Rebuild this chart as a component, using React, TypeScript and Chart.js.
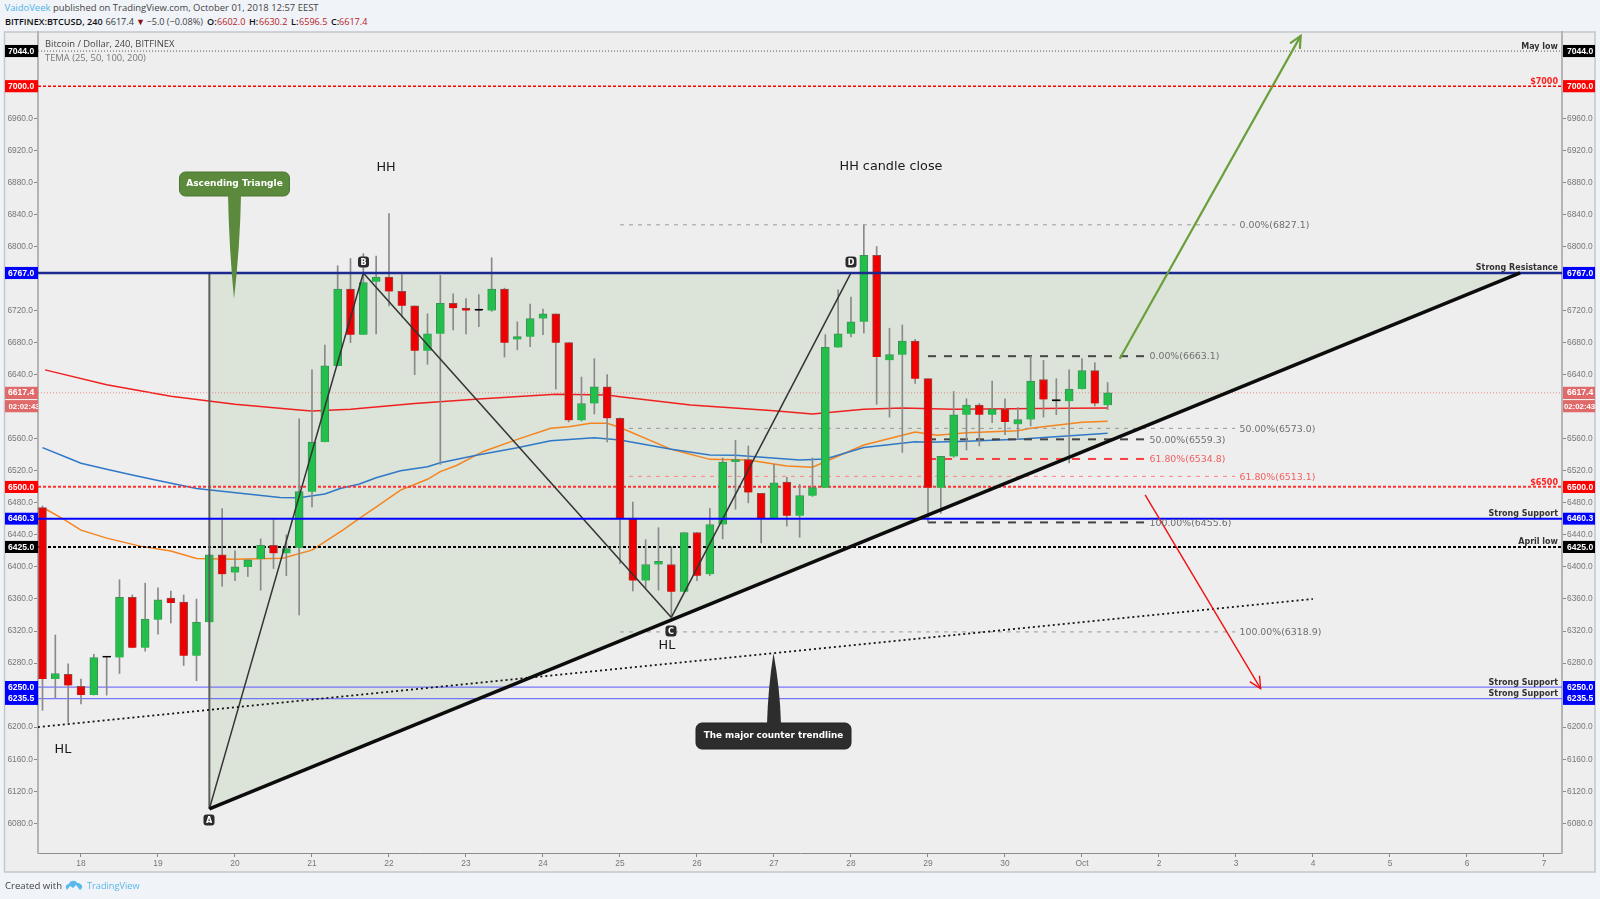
import { useEffect, useRef } from 'react'
import Chart from 'chart.js/auto'

// 4h candles, first one sits at day 17.5, six per day
const opens = [6474, 6260, 6266, 6251, 6240, 6287, 6287, 6362, 6299, 6334, 6361, 6356, 6289, 6331, 6415, 6393, 6400, 6410, 6427, 6417, 6424, 6494, 6556, 6651, 6747, 6690, 6756, 6762, 6744, 6726, 6670, 6691, 6729, 6723, 6720, 6720, 6747, 6684, 6687.5, 6710, 6716, 6680, 6583, 6604, 6625, 6585.5, 6461, 6383, 6403, 6403, 6369, 6443, 6391, 6453, 6531, 6534, 6492, 6461, 6506, 6464, 6489, 6499, 6674, 6691, 6706, 6789, 6658, 6665, 6682, 6635, 6499, 6538, 6590, 6602, 6590, 6597, 6578, 6584, 6634, 6607, 6607, 6622, 6645, 6602]
const highs = [6476, 6315, 6279, 6260, 6291, 6288, 6384, 6365, 6380, 6374, 6370, 6365, 6360, 6415, 6473, 6420, 6409, 6435, 6459, 6440, 6585, 6646, 6677, 6776, 6785, 6791, 6788, 6841, 6765, 6726, 6716, 6764, 6741, 6735, 6740, 6786, 6748, 6706, 6728, 6722, 6716, 6680, 6637, 6660, 6640, 6586, 6481, 6434, 6449, 6425, 6443, 6443, 6473, 6536, 6558, 6551, 6492, 6528, 6512, 6503, 6536, 6690, 6746, 6737, 6827.1, 6800, 6698, 6702, 6684, 6635, 6538, 6619, 6610, 6604, 6632, 6610, 6599, 6663, 6658, 6635, 6646, 6660, 6655, 6630.2]
const lows = [6221, 6236, 6206, 6229, 6240, 6240, 6267, 6299, 6295, 6316, 6330, 6277, 6258, 6331, 6376, 6383, 6388, 6371, 6398, 6389, 6340, 6475, 6556, 6651, 6680, 6690, 6691, 6726, 6712, 6640, 6653, 6528, 6696, 6691, 6700, 6719, 6662, 6671, 6675, 6690, 6622, 6581, 6582, 6591, 6556, 6404, 6370, 6374, 6371, 6338, 6369, 6383, 6389, 6435, 6472, 6480, 6430, 6461, 6451, 6437, 6488, 6499, 6674, 6687, 6692, 6603, 6587, 6543, 6629, 6456, 6467, 6537, 6546, 6551, 6580, 6565, 6559, 6576, 6587, 6590, 6530, 6622, 6601, 6596.5]
const closes = [6260, 6267, 6252, 6240, 6287, 6287.5, 6362, 6299, 6335, 6359, 6355, 6289, 6331, 6415, 6391, 6400, 6409, 6427, 6417, 6423, 6494, 6556, 6651, 6747, 6690, 6755, 6762, 6744, 6726, 6670, 6691, 6729, 6723, 6720, 6720.4, 6747, 6680, 6687.5, 6710, 6716, 6680, 6583, 6604, 6625, 6585.5, 6461, 6383, 6403, 6407, 6369, 6443, 6389, 6453, 6531, 6534, 6493, 6461, 6505, 6464, 6489, 6499, 6674, 6691, 6706, 6789, 6662, 6665, 6682, 6635, 6499, 6538, 6590, 6602, 6590, 6597, 6581, 6584, 6632, 6609, 6607.4, 6622, 6645, 6604, 6617.4]

// TEMA vertices, x is the candle index
const tema200Idx = [0.2, 5, 10, 15, 20, 21, 24, 29, 34, 40, 44, 45, 50.5, 57, 60, 64, 67, 71, 80, 83]
const tema200 = [6646, 6627.5, 6613, 6603, 6596, 6594.7, 6597, 6604, 6609.7, 6615.5, 6614.7, 6612.6, 6602.2, 6595, 6591, 6596.8, 6598.4, 6597, 6598, 6598.4]
const tema100Idx = [0, 2, 3, 5, 7, 9, 12, 18.5, 20, 22, 23.2, 24.7, 26, 27.9, 30, 31, 33.9, 37, 39.6, 43, 45, 49, 52, 54, 59, 61, 64, 68, 69, 72, 76, 83]
const tema100 = [6549, 6536, 6529.4, 6522, 6514.8, 6508, 6498, 6486.7, 6486.5, 6491, 6498, 6503.5, 6511.4, 6520, 6525, 6530, 6539.7, 6548.9, 6557.6, 6561.4, 6558.5, 6546.8, 6539.7, 6539.3, 6533.5, 6534.8, 6549, 6556.4, 6555.6, 6557, 6559.3, 6566.8]
const tema50Idx = [0.3, 1.6, 3, 5, 7.6, 10, 12, 15, 18.7, 21, 23.4, 24.7, 26.1, 27.9, 30, 31, 32.3, 34.3, 37, 39.6, 41, 42.7, 44, 45, 49, 52, 55, 58, 60, 64, 68, 69.7, 72, 76, 77, 81, 83]
const tema50 = [6471.7, 6460, 6446, 6436, 6426, 6420, 6410.5, 6409.7, 6411, 6421, 6446, 6460.7, 6476, 6496, 6509.4, 6519, 6527, 6543.9, 6559.3, 6573, 6575, 6579.3, 6579.3, 6574, 6546.8, 6534.3, 6533.5, 6526, 6524.4, 6552.2, 6568.4, 6564.3, 6567.6, 6570, 6573, 6580.5, 6581.8]

const yTicks = [6080, 6120, 6160, 6200, 6280, 6320, 6360, 6400, 6440, 6480, 6520, 6560, 6640, 6680, 6720, 6800, 6840, 6880, 6920, 6960]
const dayTicks = [18, 19, 20, 21, 22, 23, 24, 25, 26, 27, 28, 29, 30, 31, 32, 33, 34, 35, 36, 37]
const dayLabels = ['18', '19', '20', '21', '22', '23', '24', '25', '26', '27', '28', '29', '30', 'Oct', '2', '3', '4', '5', '6', '7']

const tagValues = [7044, 7000, 6767, 6617.4, 6500, 6460.3, 6425, 6250, 6235.5]
const tagColors = ['#000000', '#ff0000', '#0000ff', '#e06a6a', '#ff0000', '#0000ff', '#000000', '#0000ff', '#0000ff']

// pattern points as [day, price]
const ptA = [19.667, 6098]
const ptB = [21.667, 6767]
const ptC = [25.667, 6337]
const ptD = [28, 6767]
const apex = [36.69, 6767]

const fibLevels1 = [6827.1, 6573, 6513.1, 6318.9]
const fibNames1 = ['0.00%(6827.1)', '50.00%(6573.0)', '61.80%(6513.1)', '100.00%(6318.9)']
const fibLevels2 = [6663.1, 6559.3, 6534.8, 6455.6]
const fibNames2 = ['0.00%(6663.1)', '50.00%(6559.3)', '61.80%(6534.8)', '100.00%(6455.6)']

const PX_FONT = '"Liberation Sans"'
const TV_FONT = '"DejaVu Sans"'

const dayOf = (i: number) => 17.5 + i / 6
const X_MIN = 17.4416
const X_MAX = 37.234

const hline = (v: number) => [{ x: X_MIN, y: v }, { x: X_MAX, y: v }]
const pts = (a: number[], b: number[]) => [{ x: a[0], y: a[1] }, { x: b[0], y: b[1] }]
const line = (label: string, data: any[], color: string, width: number, order: number, dash: number[] = []) => ({
  type: 'line', label, data, borderColor: color, borderWidth: width, borderDash: dash,
  pointRadius: 0, tension: 0, fill: false, order,
})
const tema = (label: string, idx: number[], vals: number[], color: string) =>
  line(label, idx.map((k, n) => ({ x: dayOf(k), y: vals[n] })), color, 1.5, 70)

const candleData = opens.map((o, i) => ({ x: dayOf(i), y: [o, closes[i]] }))
const wickData = highs.map((h, i) => ({ x: dayOf(i), y: [lows[i], h] }))
const isDoji = (i: number) => Math.abs(opens[i] - closes[i]) < 1
const bodyColors = opens.map((o, i) => (isDoji(i) ? '#000000' : closes[i] > o ? '#22c04b' : '#ee0000'))
const edgeColors = opens.map((o, i) => (isDoji(i) ? '#000000' : closes[i] > o ? '#3f8f58' : '#8f4a4a'))

function head(ctx: any, x0: number, y0: number, x1: number, y1: number, color: string, width: number) {
  const a = Math.atan2(y1 - y0, x1 - x0)
  ctx.strokeStyle = color
  ctx.lineWidth = width
  ctx.beginPath()
  ctx.moveTo(x1 - 13 * Math.cos(a - 0.45), y1 - 13 * Math.sin(a - 0.45))
  ctx.lineTo(x1, y1)
  ctx.lineTo(x1 - 13 * Math.cos(a + 0.45), y1 - 13 * Math.sin(a + 0.45))
  ctx.stroke()
}

function badge(ctx: any, x: number, y: number, letter: string) {
  ctx.fillStyle = '#2b2b2b'
  ctx.beginPath()
  ctx.roundRect(x - 5.5, y - 5.5, 11, 11, 3)
  ctx.fill()
  ctx.fillStyle = '#ffffff'
  ctx.font = `bold 8px ${TV_FONT}`
  ctx.textAlign = 'center'
  ctx.textBaseline = 'middle'
  ctx.fillText(letter, x, y + 0.5)
}

function callout(ctx: any, box: number[], tip: number[], neck: number[], fill: string, edge: string, text: string, size: number) {
  const [x, y, w, h] = box
  const up = tip[1] < y
  const base = up ? y + 1 : y + h - 1
  ctx.fillStyle = fill
  ctx.strokeStyle = edge
  ctx.lineWidth = 1
  ctx.beginPath()
  ctx.roundRect(x, y, w, h, 6)
  ctx.fill()
  ctx.stroke()
  ctx.beginPath()
  ctx.moveTo(neck[0], base)
  ctx.quadraticCurveTo(neck[0] + 1, (base + tip[1]) / 2, tip[0], tip[1])
  ctx.quadraticCurveTo(neck[1] - 1, (base + tip[1]) / 2, neck[1], base)
  ctx.closePath()
  ctx.fill()
  ctx.fillStyle = '#ffffff'
  ctx.font = `bold ${size}px ${TV_FONT}`
  ctx.textAlign = 'center'
  ctx.textBaseline = 'middle'
  ctx.fillText(text, x + w / 2, y + h / 2)
}

const paperPlugin = {
  id: 'paper',
  beforeDraw(chart: any) {
    const { ctx } = chart
    ctx.save()
    ctx.fillStyle = '#eeeeee'
    ctx.fillRect(5, 32, 1590, 840)
    ctx.strokeStyle = '#c3c6ca'
    ctx.lineWidth = 1.5
    ctx.strokeRect(4.5, 32, 1590.5, 840)
    ctx.restore()
  },
}

const notesPlugin = {
  id: 'notes',
  afterDatasetsDraw(chart: any) {
    const { ctx, scales } = chart
    const px = (d: number) => scales.x.getPixelForValue(d)
    const py = (v: number) => scales.y.getPixelForValue(v)
    ctx.save()

    // pane legend
    ctx.textAlign = 'left'
    ctx.textBaseline = 'middle'
    ctx.font = '9.4px "Open Sans"'
    ctx.fillStyle = '#444444'
    ctx.fillText('Bitcoin / Dollar, 240, BITFINEX', 45, 44.5)
    ctx.fillStyle = '#777777'
    ctx.fillText('TEMA (25, 50, 100, 200)', 45, 58.5)

    // arrow heads
    head(ctx, px(31.49), py(6660), px(33.84), py(7063), '#6a9f3c', 2.2)
    head(ctx, px(31.82), py(6490), px(33.32), py(6248), '#f01010', 1.4)

    // fib labels
    ctx.textAlign = 'left'
    ctx.font = `9.4px ${TV_FONT}`
    fibLevels1.forEach((v, i) => {
      ctx.fillStyle = i === 2 ? '#f06060' : '#6f6f6f'
      ctx.fillText(fibNames1[i], 1239.5, py(v) + 0.8)
    })
    fibLevels2.forEach((v, i) => {
      ctx.fillStyle = i === 2 ? '#f06060' : '#6f6f6f'
      ctx.fillText(fibNames2[i], 1149.5, py(v) + 0.8)
    })

    // free text
    ctx.fillStyle = '#1a1a1a'
    ctx.font = `12.8px ${TV_FONT}`
    ctx.textAlign = 'center'
    ctx.fillText('HH', 386, 168)
    ctx.fillText('HH candle close', 891, 167)
    ctx.fillText('HL', 667, 646)
    ctx.fillText('HL', 63, 750)

    // notes on the price lines
    ctx.textAlign = 'right'
    ctx.font = `bold 8px ${TV_FONT}`
    const noted = [
      ['May low', 47, '#333333'], ['$7000', 81.5, '#ff2020'], ['Strong Resistance', 268, '#333333'],
      ['$6500', 482.5, '#ff2020'], ['Strong Support', 514, '#333333'], ['April low', 542, '#333333'],
      ['Strong Support', 682.5, '#333333'], ['Strong Support', 693.5, '#333333'],
    ]
    noted.forEach(([t, y, c]: any) => {
      ctx.fillStyle = c
      ctx.fillText(t, 1558, y)
    })

    badge(ctx, 209, 820, 'A')
    badge(ctx, 363.5, 262, 'B')
    badge(ctx, 671, 631, 'C')
    badge(ctx, 851, 262, 'D')

    callout(ctx, [179.5, 172, 110, 24], [234, 299], [228, 241], '#5b8a3c', '#4c7733', 'Ascending Triangle', 9)
    callout(ctx, [696, 723, 155, 26], [773.5, 653], [767, 781], '#2d2d2d', '#222222', 'The major counter trendline', 8.8)

    ctx.restore()
  },
  afterDraw(chart: any) {
    const { ctx, chartArea, scales } = chart
    const py = (v: number) => scales.y.getPixelForValue(v)
    ctx.save()
    const tag = (left: number, right: number, cy: number, fill: string, text: string, textX: number, size = 8.6) => {
      ctx.save()
      ctx.beginPath()
      ctx.rect(left, cy - 6.2, right - left, 12.4)
      ctx.clip()
      ctx.fillStyle = fill
      ctx.fillRect(left, cy - 6.2, right - left, 12.4)
      ctx.fillStyle = '#ffffff'
      ctx.font = `bold ${size}px ${PX_FONT}`
      ctx.textAlign = 'left'
      ctx.textBaseline = 'middle'
      ctx.fillText(text, textX, cy + 0.3)
      ctx.restore()
    }
    tagValues.forEach((v, i) => {
      const t = v.toFixed(1)
      tag(5, chartArea.left, py(v), tagColors[i], t, 8)
      tag(chartArea.right + 1, 1595, py(v), tagColors[i], t, 1567)
    })
    tag(5, chartArea.left, py(6617.4) + 13.5, '#e06a6a', '02:02:43', 8.5, 7.8)
    tag(chartArea.right + 1, 1595, py(6617.4) + 13.5, '#e06a6a', '02:02:43', 1564, 7.8)
    ctx.restore()
  },
}

function sideAxis(position: string) {
  return {
    type: 'linear',
    position,
    min: 6042.9,
    max: 7067.8,
    afterFit: (s: any) => { s.width = 33 },
    afterBuildTicks: (s: any) => { s.ticks = yTicks.map((value) => ({ value })) },
    grid: { drawOnChartArea: false, tickLength: 4, tickColor: '#888888' },
    border: { color: '#b4b4b4', width: 2 },
    ticks: {
      autoSkip: false, padding: 1, color: '#777777',
      font: { family: 'Liberation Sans', size: 8.4 },
      callback: (v: any) => Number(v).toFixed(1),
    },
  }
}

export default function App() {
  const canvasRef = useRef<HTMLCanvasElement | null>(null)

  useEffect(() => {
    if (!canvasRef.current) return

    const chart = new Chart(canvasRef.current, {
      type: 'bar',
      data: {
        datasets: [
          // triangle fill, lower edge fills up to the next dataset
          { ...line('triangleLow', pts(ptA, apex), 'rgba(0,0,0,0)', 0, 100), fill: '+1', backgroundColor: 'rgba(148,183,133,0.2)' },
          line('triangleTop', pts([ptA[0], 6767], apex), 'rgba(0,0,0,0)', 0, 100),

          tema('TEMA 200', tema200Idx, tema200, '#f02020'),
          tema('TEMA 100', tema100Idx, tema100, '#2f78c8'),
          tema('TEMA 50', tema50Idx, tema50, '#f5841f'),

          line('7044', hline(7044), '#555555', 1, 60, [1, 2]),
          line('7000', hline(7000), '#ff0000', 1.5, 60, [3, 2]),
          line('6617', hline(6617.4), '#e98a8a', 1, 60, [1, 2]),
          line('6500', hline(6500), '#ff3030', 2, 60, [3, 2]),
          line('6425', hline(6425), '#000000', 2, 60, [3, 2]),
          line('6250', hline(6250), '#5a5aff', 1, 60),
          line('6235', hline(6235.5), '#5a5aff', 1, 60),

          ...fibLevels1.map((v, i) =>
            line('fibA' + i, pts([25, v], [32.99, v]), i === 2 ? '#ff8080' : '#999999', 1, 55, [4, 5])),
          ...fibLevels2.map((v, i) =>
            line('fibB' + i, pts([29, v], [31.83, v]), i === 2 ? '#ff4040' : '#444444', 2, 55, [8, 8])),

          {
            type: 'bar', label: 'wicks', data: wickData, backgroundColor: '#8a8a8a',
            barThickness: 1, grouped: false, order: 50,
          },
          {
            type: 'bar', label: 'candles', data: candleData, backgroundColor: bodyColors, borderColor: edgeColors,
            borderWidth: 1, barThickness: 8, minBarLength: 1.5, grouped: false, order: 40,
          },

          line('ABleg', pts(ptA, ptB), '#333333', 1.5, 30),
          line('BCleg', pts(ptB, ptC), '#333333', 1.5, 30),
          line('CDleg', pts(ptC, ptD), '#333333', 1.5, 30),
          line('triangleLeft', pts(ptA, [ptA[0], 6767]), '#5c5f5c', 2, 30),
          line('6767', hline(6767), '#1c2a90', 2.6, 25),
          line('6460', hline(6460.3), '#0000ff', 2, 25),
          line('counter', pts([17.44, 6200], [34, 6360]), '#111111', 1.7, 20, [2, 3]),
          line('trend', pts(ptA, apex), '#0c0c0c', 3.5, 15),
          line('upArrow', pts([31.49, 6660], [33.84, 7063]), '#6a9f3c', 2.2, 10),
          line('downArrow', pts([31.82, 6490], [33.32, 6248]), '#f01010', 1.4, 10),
        ] as any,
      },
      options: {
        animation: false,
        responsive: false,
        devicePixelRatio: 1,
        events: [],
        layout: { padding: { left: 5, right: 5, top: 32, bottom: 27 } },
        plugins: { legend: { display: false }, tooltip: { enabled: false } },
        scales: {
          x: {
            type: 'linear',
            offset: false,
            min: X_MIN,
            max: X_MAX,
            afterFit: (s: any) => { s.height = 19 },
            afterBuildTicks: (s: any) => { s.ticks = dayTicks.map((value) => ({ value })) },
            grid: { offset: false, drawOnChartArea: false, tickLength: 4, tickColor: '#888888' },
            border: { color: '#8c8c8c', width: 1 },
            ticks: {
              autoSkip: false, maxRotation: 0, padding: 2, color: '#777777',
              font: { family: 'Liberation Sans', size: 8.4 },
              callback: (v: any) => dayLabels[dayTicks.indexOf(Number(v))],
            },
          },
          y: sideAxis('left'),
          yRight: sideAxis('right'),
        } as any,
      },
      plugins: [paperPlugin, notesPlugin],
    } as any)

    return () => chart.destroy()
  }, [])

  const at = (left: number, top: number, color: string, size: number, bold = false) => ({
    position: 'absolute' as const, left, top, color, fontFamily: '"Open Sans", sans-serif', fontSize: size,
    fontWeight: bold ? 600 : 400, lineHeight: '14px', whiteSpace: 'nowrap' as const,
  })

  return (
    <div style={{ position: 'absolute', left: 0, top: 0, width: 1600, height: 899, overflow: 'hidden', background: '#f0f3f8' }}>
      <span style={at(4.5, 1, '#4fb3e8', 9.45)}>VaidoVeek</span>
      <span style={at(53, 1, '#444444', 9.45)}>published on TradingView.com, October 01, 2018 12:57 EEST</span>
      <span style={at(5, 15, '#111111', 9.1, true)}>BITFINEX:BTCUSD, 240</span>
      <span style={at(105.5, 15, '#333333', 9.1)}>6617.4</span>
      <span style={at(136, 15, '#8b1010', 9.1)}>▼</span>
      <span style={at(146.5, 15, '#444444', 9.1)}>−5.0 (−0.08%)</span>
      <span style={at(207, 15, '#111111', 9.1, true)}>O:</span>
      <span style={at(217, 15, '#b71c1c', 9.1)}>6602.0</span>
      <span style={at(249, 15, '#111111', 9.1, true)}>H:</span>
      <span style={at(259, 15, '#b71c1c', 9.1)}>6630.2</span>
      <span style={at(291, 15, '#111111', 9.1, true)}>L:</span>
      <span style={at(299, 15, '#b71c1c', 9.1)}>6596.5</span>
      <span style={at(331, 15, '#111111', 9.1, true)}>C:</span>
      <span style={at(339, 15, '#b71c1c', 9.1)}>6617.4</span>
      <canvas ref={canvasRef} width={1600} height={899} style={{ position: 'absolute', left: 0, top: 0, display: 'block' }} />
      <span style={at(5, 879, '#444444', 9.6)}>Created with</span>
      <svg width={18} height={11} style={{ position: 'absolute', left: 65, top: 880 }}>
        <path d="M1 8 C0 5 3 4 4 4 C5 0 11 0 12 3 C15 3 18 5 17 8 L15 10 L11 5 L8 8 L5 6 L2 10 Z" fill="#5bb8ea" />
      </svg>
      <span style={at(87, 879, '#5bb8ea', 9.2)}>TradingView</span>
    </div>
  )
}
